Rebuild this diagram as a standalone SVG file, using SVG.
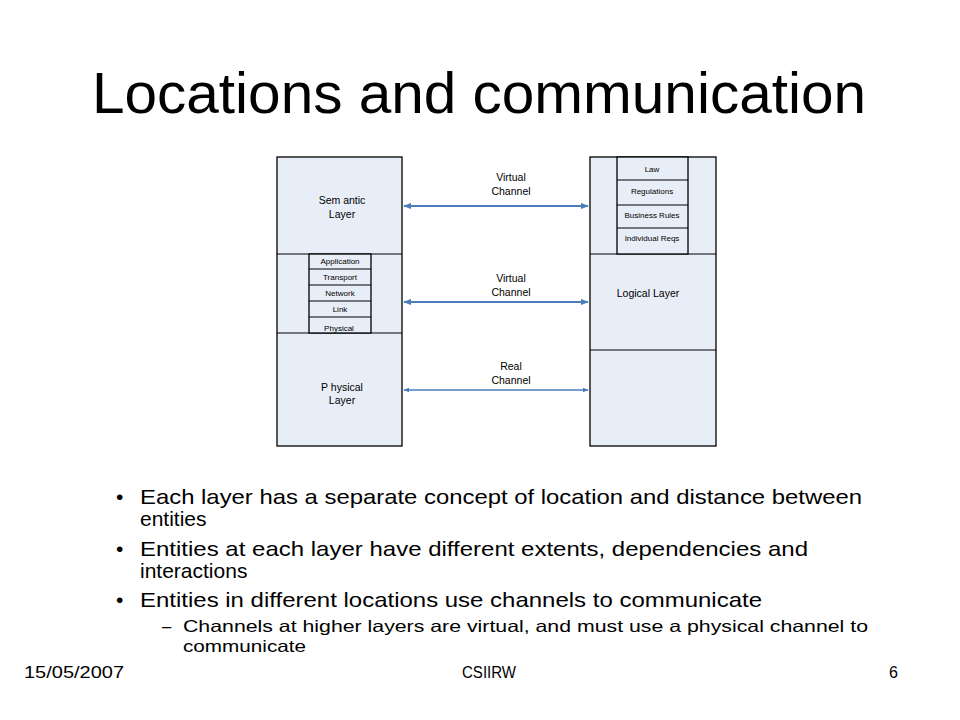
<svg xmlns="http://www.w3.org/2000/svg" width="960" height="720" viewBox="0 0 960 720">
<style>
text{font-family:"Liberation Sans",Arial,sans-serif;fill:#000}
.b{fill:#e8eef7;stroke:#000;stroke-width:1.3}
.s{font-size:8px;text-anchor:middle}
.m{font-size:10.5px;text-anchor:middle}
.c{stroke:#4a7ebb;fill:none}
.body{font-size:21px}
.sub{font-size:16.5px}
.f{font-size:16px}
</style>
<defs>
<marker id="a" viewBox="0 0 10 10" refX="9" refY="5" markerWidth="4" markerHeight="4" orient="auto-start-reverse"><path d="M0,1L10,5L0,9z" fill="#4a7ebb"/></marker>
</defs>
<rect width="960" height="720" fill="#fff"/>
<text x="92" y="113" font-size="58" textLength="774" lengthAdjust="spacingAndGlyphs">Locations and communication</text>
<g id="left">
<rect class="b" x="277" y="157" width="125" height="289"/>
<line x1="277" y1="254" x2="402" y2="254" stroke="#000"/>
<line x1="277" y1="333" x2="402" y2="333" stroke="#000"/>
<rect class="b" x="309" y="254" width="62" height="79"/>
<path d="M309,269H371M309,285H371M309,301H371M309,317H371" stroke="#000"/>
<text class="m" x="342" y="204">Sem antic</text><text class="m" x="342" y="218">Layer</text>
<text class="s" x="340" y="264">Application</text>
<text class="s" x="340" y="280">Transport</text>
<text class="s" x="340" y="296">Network</text>
<text class="s" x="340" y="312">Link</text>
<text class="s" x="339" y="331">Physical</text>
<text class="m" x="342" y="391">P hysical</text><text class="m" x="342" y="404">Layer</text>
</g>
<g id="right">
<rect class="b" x="590" y="157" width="126" height="289"/>
<line x1="590" y1="254" x2="716" y2="254" stroke="#000"/>
<line x1="590" y1="350" x2="716" y2="350" stroke="#000"/>
<rect class="b" x="617" y="157" width="71" height="97"/>
<path d="M617,180H688M617,205H688M617,228H688" stroke="#000"/>
<text class="s" x="652" y="172">Law</text>
<text class="s" x="652" y="194">Regulations</text>
<text class="s" x="652" y="218">Business Rules</text>
<text class="s" x="652" y="241">Individual Reqs</text>
<text class="m" x="648" y="297">Logical Layer</text>
</g>
<g id="connectors">
<line class="c" x1="404" y1="206" x2="588" y2="206" stroke-width="2" marker-start="url(#a)" marker-end="url(#a)"/>
<line class="c" x1="404" y1="302" x2="588" y2="302" stroke-width="2" marker-start="url(#a)" marker-end="url(#a)"/>
<line class="c" x1="404" y1="390" x2="588" y2="390" stroke-width="1.5" marker-start="url(#a)" marker-end="url(#a)"/>
<text class="m" x="511" y="181">Virtual</text><text class="m" x="511" y="195">Channel</text>
<text class="m" x="511" y="282">Virtual</text><text class="m" x="511" y="296">Channel</text>
<text class="m" x="511" y="370">Real</text><text class="m" x="511" y="384">Channel</text>
</g>
<g id="bullets">
<text class="body" x="116" y="504">•</text>
<text class="body" x="140" y="504" textLength="722" lengthAdjust="spacingAndGlyphs">Each layer has a separate concept of location and distance between</text>
<text class="body" x="140" y="526">entities</text>
<text class="body" x="116" y="556">•</text>
<text class="body" x="140" y="556" textLength="668" lengthAdjust="spacingAndGlyphs">Entities at each layer have different extents, dependencies and</text>
<text class="body" x="140" y="578">interactions</text>
<text class="body" x="116" y="607">•</text>
<text class="body" x="140" y="607" textLength="622" lengthAdjust="spacingAndGlyphs">Entities in different locations use channels to communicate</text>
<text class="sub" x="162" y="632">–</text>
<text class="sub" x="183" y="632" textLength="685" lengthAdjust="spacingAndGlyphs">Channels at higher layers are virtual, and must use a physical channel to</text>
<text class="sub" x="183" y="652" textLength="123" lengthAdjust="spacingAndGlyphs">communicate</text>
</g>
<text class="f" x="24" y="678" textLength="100" lengthAdjust="spacingAndGlyphs">15/05/2007</text>
<text class="f" x="462" y="678" textLength="54" lengthAdjust="spacingAndGlyphs">CSIIRW</text>
<text class="f" x="889" y="678">6</text>
</svg>
